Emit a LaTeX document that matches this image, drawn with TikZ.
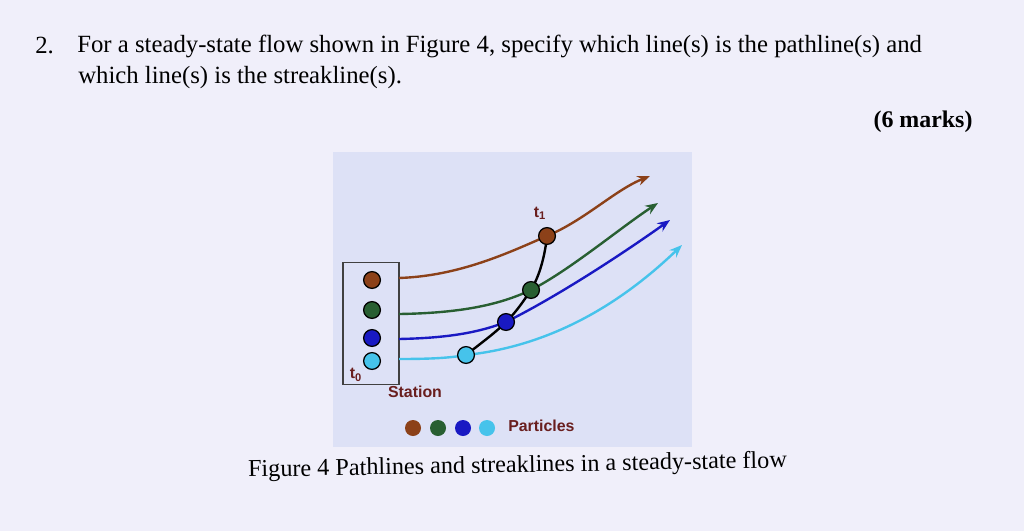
\documentclass[tikz,border=0pt]{standalone}
\usepackage{fontspec}
\setmainfont{Liberation Serif}
\newfontfamily\labelfont{Liberation Sans}
\usetikzlibrary{positioning,arrows.meta}

\definecolor{paper}{RGB}{240,239,250}
\definecolor{panel}{RGB}{221,225,246}
\definecolor{pbrown}{RGB}{140,65,25}
\definecolor{pgreen}{RGB}{40,95,50}
\definecolor{pblue}{RGB}{25,25,195}
\definecolor{pcyan}{RGB}{70,195,235}
\definecolor{labelred}{RGB}{105,30,30}

\begin{document}
\begin{tikzpicture}[x=0.025cm, y=-0.025cm, >={Stealth[length=9pt,width=7pt]},
    qtext/.style={anchor=base west, inner sep=0pt, font=\fontsize{17.6}{18.4}\selectfont},
    particle/.style={circle, draw=black, line width=0.9pt, minimum size=0.42cm, inner sep=0pt},
    dot/.style={circle, minimum size=0.4cm, inner sep=0pt},
    flow/.style={->, line width=1.7pt},
    figlabel/.style={text=labelred, inner sep=0pt, font=\labelfont\bfseries\fontsize{11.3}{13}\selectfont}]
    \useasboundingbox[fill=paper] (0,0) rectangle (1024,531);

    % question
    \node[qtext] (qnum) at (35,54) {2.};
    \node[qtext] (qline1) at (77,53) {For a steady-state flow shown in Figure 4, specify which line(s) is the pathline(s) and};
    \node[qtext] (qline2) at (78,84) {which line(s) is the streakline(s).};
    \node[font=\bfseries\fontsize{17}{20}\selectfont] (marks) at (923,122) {(6 marks)};

    % figure
    \fill[panel] (333,152) rectangle (692,447);
    \node[draw=black!75, line width=0.8pt, minimum width=1.4cm, minimum height=3.03cm, inner sep=0pt] (station) at (371,323.5) {};

    \coordinate (bstart) at (399,278);
    \coordinate (gstart) at (399,314);
    \coordinate (ustart) at (399,339);
    \coordinate (cstart) at (399,359);
    \coordinate (bt) at (547,236);
    \coordinate (gt) at (531,290);
    \coordinate (ut) at (506,322);
    \coordinate (ct) at (466,355);
    \coordinate (bend) at (650,176);
    \coordinate (gend) at (658,203);
    \coordinate (uend) at (670,220);
    \coordinate (cend) at (682,245);

    \draw[flow, pbrown] (bstart) .. controls (460,276) and (510,252) .. (bt) .. controls (585,220) and (615,190) .. (bend);
    \draw[flow, pgreen] (gstart) .. controls (470,313) and (505,302) .. (gt) .. controls (570,270) and (620,228) .. (gend);
    \draw[flow, pblue] (ustart) .. controls (450,338) and (480,332) .. (ut) .. controls (560,295) and (625,252) .. (uend);
    \draw[flow, pcyan] (cstart) .. controls (430,359) and (450,358) .. (ct) .. controls (560,345) and (630,295) .. (cend);

    \draw[line width=1.7pt] (ct) .. controls (485,340) and (495,333) .. (ut) .. controls (518,310) and (524,300) .. (gt) .. controls (540,275) and (545,255) .. (bt);

    \node[particle, fill=pbrown] (sb) at (372,280) {};
    \node[particle, fill=pgreen] (sg) at (372,310) {};
    \node[particle, fill=pblue] (su) at (372,338) {};
    \node[particle, fill=pcyan] (sc) at (372,361) {};

    \node[particle, fill=pbrown] (pb) at (bt) {};
    \node[particle, fill=pgreen] (pg) at (gt) {};
    \node[particle, fill=pblue] (pu) at (ut) {};
    \node[particle, fill=pcyan] (pc) at (ct) {};

    \node[figlabel] (tzero) at (356,375) {t\textsubscript{0}};
    \node[figlabel] (tone) at (540,213) {t\textsubscript{1}};
    \node[figlabel] (stationlbl) at (415,392) {Station};

    \node[dot, fill=pbrown] (lb) at (413,428) {};
    \node[dot, fill=pgreen] (lg) at (438,428) {};
    \node[dot, fill=pblue] (lu) at (463,428) {};
    \node[dot, fill=pcyan] (lc) at (487,428) {};
    \node[figlabel, anchor=west] (partlbl) at (508,426) {Particles};

    \node[qtext, rotate=1, font=\fontsize{17.2}{20}\selectfont] (caption) at (248,477) {Figure 4 Pathlines and streaklines in a steady-state flow};
\end{tikzpicture}
\end{document}
